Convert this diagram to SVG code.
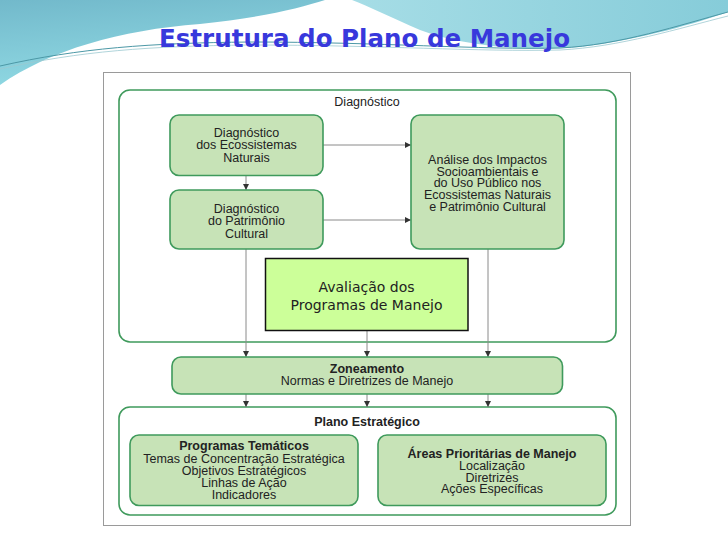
<svg xmlns="http://www.w3.org/2000/svg" width="728" height="546" viewBox="0 0 728 546">
<defs>
<linearGradient id="gTeal" x1="0" y1="0" x2="0.3" y2="1">
<stop offset="0" stop-color="#72b9cb"/>
<stop offset="1" stop-color="#90d9e3"/>
</linearGradient>
<linearGradient id="gCyan" x1="0" y1="0" x2="1" y2="0">
<stop offset="0" stop-color="#a6dde6"/>
<stop offset="1" stop-color="#86ccd9"/>
</linearGradient>
<marker id="ah" markerUnits="userSpaceOnUse" markerWidth="7" markerHeight="7" refX="6" refY="3" orient="auto">
<path d="M0,0 L6,3 L0,6 Z" fill="#333"/>
</marker>
<style>
.cont{fill:#fff;stroke:#3f9a5c;stroke-width:1.6}
.box{fill:#c7e3b7;stroke:#3f9a5c;stroke-width:1.6}
.t{font-family:"Liberation Sans",Arial,sans-serif;font-size:12.5px;fill:#222;text-anchor:middle}
.b{font-weight:bold}
.c{fill:none;stroke:#8a8a8a;stroke-width:1;marker-end:url(#ah)}
</style>
</defs>
<rect width="728" height="546" fill="#fff"/>
<g id="header">
<path d="M0,0 H325 C300,8 260,18 200,24 C120,30 50,50 0,85 Z" fill="url(#gTeal)"/>
<path d="M352,0 H728 V12 C700,22 640,40 580,47 C520,52 460,45 420,30 C392,18 368,6 352,0 Z" fill="url(#gCyan)"/>
<path d="M0,66 C80,48 150,43 250,42 C380,42 480,50 560,48 C620,45 680,25 728,12" fill="none" stroke="#4c98a6" stroke-width="1"/>
<path d="M0,69 C80,51 150,46 250,45 C380,45 480,52 560,50 C620,47 680,28 728,16" fill="none" stroke="#9cc9d0" stroke-width="0.8"/>
<text x="159" y="47" textLength="411" lengthAdjust="spacingAndGlyphs" font-family="'DejaVu Sans',Verdana,sans-serif" font-weight="bold" font-size="25" fill="#3838dc">Estrutura do Plano de Manejo</text>
</g>
<rect x="103.5" y="72.5" width="527" height="453" fill="#fff" stroke="#9a9a9a" stroke-width="1"/>
<g id="diagnostico">
<rect class="cont" x="119" y="90" width="497" height="252" rx="11"/>
<text class="t" x="367" y="105.5">Diagnóstico</text>
</g>
<g id="plano">
<rect class="cont" x="119" y="407" width="497" height="108" rx="11"/>
<text class="t b" x="367" y="425.5">Plano Estratégico</text>
</g>
<g id="connectors">
<path class="c" d="M323,145 H411"/>
<path class="c" d="M323,220 H411"/>
<path class="c" d="M246,175.5 V190"/>
<path class="c" d="M246,249 V357"/>
<path class="c" d="M367,331 V357"/>
<path class="c" d="M488,249 V357"/>
<path class="c" d="M246,394 V407"/>
<path class="c" d="M367,394 V407"/>
<path class="c" d="M488,394 V407"/>
</g>
<g id="ecossistemas">
<rect class="box" x="170" y="115" width="153" height="60.5" rx="9"/>
<text class="t" x="246.5" y="137">Diagnóstico</text>
<text class="t" x="246.5" y="149.3">dos Ecossistemas</text>
<text class="t" x="246.5" y="161.5">Naturais</text>
</g>
<g id="patrimonio">
<rect class="box" x="170" y="190" width="153" height="59" rx="9"/>
<text class="t" x="246.5" y="213">Diagnóstico</text>
<text class="t" x="246.5" y="225.3">do Patrimônio</text>
<text class="t" x="246.5" y="237.5">Cultural</text>
</g>
<g id="analise">
<rect class="box" x="411" y="115" width="153" height="134" rx="9"/>
<text class="t" x="487.5" y="164">Análise dos Impactos</text>
<text class="t" x="487.5" y="175.7">Socioambientais e</text>
<text class="t" x="487.5" y="187.4">do Uso Público nos</text>
<text class="t" x="487.5" y="199.1">Ecossistemas Naturais</text>
<text class="t" x="487.5" y="210.8">e Patrimônio Cultural</text>
</g>
<g id="avaliacao">
<rect x="265.5" y="258.5" width="202.5" height="72" fill="#ccff99" stroke="#111" stroke-width="1.5"/>
<text x="366.5" y="292" font-family="'DejaVu Sans',Verdana,sans-serif" font-size="14" fill="#222" text-anchor="middle">Avaliação dos</text>
<text x="366.5" y="310" font-family="'DejaVu Sans',Verdana,sans-serif" font-size="14" fill="#222" text-anchor="middle">Programas de Manejo</text>
</g>
<g id="zoneamento">
<rect class="box" x="172" y="357" width="390.5" height="37" rx="9"/>
<text class="t b" x="367" y="373">Zoneamento</text>
<text class="t" x="367" y="385">Normas e Diretrizes de Manejo</text>
</g>
<g id="programas">
<rect class="box" x="130" y="435" width="228" height="70.5" rx="9"/>
<text class="t b" x="244" y="450.2">Programas Temáticos</text>
<text class="t" x="244" y="463.2">Temas de Concentração Estratégica</text>
<text class="t" x="244" y="475.2">Objetivos Estratégicos</text>
<text class="t" x="244" y="487.2">Linhas de Ação</text>
<text class="t" x="244" y="499.2">Indicadores</text>
</g>
<g id="areas">
<rect class="box" x="378" y="435" width="228" height="70.5" rx="9"/>
<text class="t b" x="492" y="458">Áreas Prioritárias de Manejo</text>
<text class="t" x="492" y="469.8">Localização</text>
<text class="t" x="492" y="481.6">Diretrizes</text>
<text class="t" x="492" y="493.4">Ações Específicas</text>
</g>
</svg>
